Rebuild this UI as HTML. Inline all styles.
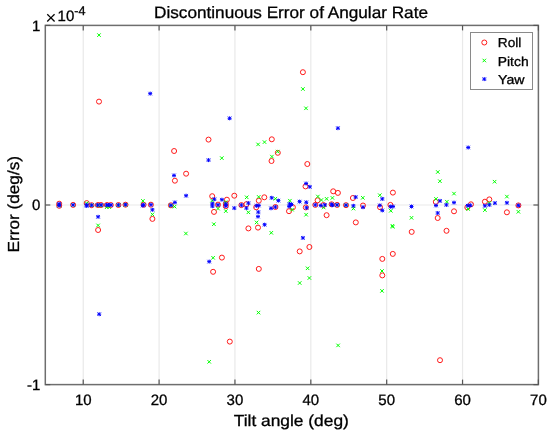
<!DOCTYPE html>
<html><head><meta charset="utf-8"><title>Discontinuous Error of Angular Rate</title><style>
html,body{margin:0;padding:0;background:#fff;}
body{width:550px;height:434px;overflow:hidden;position:relative;}
svg{position:absolute;left:0;top:0;filter:blur(0.3px);}
text{font-family:"Liberation Sans",Arial,sans-serif;fill:#000;text-rendering:geometricPrecision;stroke:#000;stroke-width:0.3px;}
</style></head><body>
<svg width="550" height="434" viewBox="0 0 550 434">
<rect x="0" y="0" width="550" height="434" fill="#fff"/>
<g stroke="#e9e9e9" stroke-width="1.2"><line x1="83.23" y1="25.4" x2="83.23" y2="384.6"/><line x1="159.09" y1="25.4" x2="159.09" y2="384.6"/><line x1="234.95" y1="25.4" x2="234.95" y2="384.6"/><line x1="310.82" y1="25.4" x2="310.82" y2="384.6"/><line x1="386.68" y1="25.4" x2="386.68" y2="384.6"/><line x1="462.54" y1="25.4" x2="462.54" y2="384.6"/><line x1="45.3" y1="205.00" x2="538.4" y2="205.00"/></g>
<g fill="none" stroke="#ff1a1a" stroke-width="1.0"><circle cx="99.00" cy="101.60" r="2.5"/><circle cx="174.10" cy="151.00" r="2.5"/><circle cx="174.90" cy="180.70" r="2.5"/><circle cx="186.10" cy="173.70" r="2.5"/><circle cx="208.50" cy="139.60" r="2.5"/><circle cx="271.80" cy="139.30" r="2.5"/><circle cx="277.80" cy="152.80" r="2.5"/><circle cx="271.50" cy="161.00" r="2.5"/><circle cx="302.90" cy="72.20" r="2.5"/><circle cx="307.30" cy="164.00" r="2.5"/><circle cx="305.50" cy="186.40" r="2.5"/><circle cx="333.20" cy="191.30" r="2.5"/><circle cx="337.90" cy="192.90" r="2.5"/><circle cx="392.90" cy="192.60" r="2.5"/><circle cx="59.20" cy="203.70" r="2.5"/><circle cx="59.20" cy="205.80" r="2.5"/><circle cx="73.10" cy="204.90" r="2.5"/><circle cx="86.70" cy="203.10" r="2.5"/><circle cx="91.60" cy="205.20" r="2.5"/><circle cx="98.00" cy="205.00" r="2.5"/><circle cx="101.00" cy="205.00" r="2.5"/><circle cx="107.00" cy="205.00" r="2.5"/><circle cx="110.80" cy="205.00" r="2.5"/><circle cx="98.10" cy="230.00" r="2.5"/><circle cx="118.40" cy="205.00" r="2.5"/><circle cx="125.50" cy="204.70" r="2.5"/><circle cx="143.60" cy="204.70" r="2.5"/><circle cx="150.90" cy="204.70" r="2.5"/><circle cx="152.40" cy="218.90" r="2.5"/><circle cx="170.90" cy="205.30" r="2.5"/><circle cx="212.20" cy="196.20" r="2.5"/><circle cx="218.00" cy="204.60" r="2.5"/><circle cx="214.00" cy="211.90" r="2.5"/><circle cx="226.90" cy="199.70" r="2.5"/><circle cx="225.80" cy="203.80" r="2.5"/><circle cx="225.80" cy="206.20" r="2.5"/><circle cx="234.30" cy="195.70" r="2.5"/><circle cx="241.40" cy="205.10" r="2.5"/><circle cx="246.40" cy="204.20" r="2.5"/><circle cx="258.80" cy="200.70" r="2.5"/><circle cx="264.30" cy="197.30" r="2.5"/><circle cx="256.20" cy="207.30" r="2.5"/><circle cx="258.00" cy="227.60" r="2.5"/><circle cx="275.40" cy="207.00" r="2.5"/><circle cx="289.00" cy="211.20" r="2.5"/><circle cx="292.90" cy="207.30" r="2.5"/><circle cx="305.80" cy="207.40" r="2.5"/><circle cx="317.60" cy="200.30" r="2.5"/><circle cx="315.30" cy="204.90" r="2.5"/><circle cx="323.40" cy="205.00" r="2.5"/><circle cx="326.60" cy="215.20" r="2.5"/><circle cx="331.60" cy="204.30" r="2.5"/><circle cx="337.10" cy="204.90" r="2.5"/><circle cx="346.00" cy="205.20" r="2.5"/><circle cx="352.90" cy="198.00" r="2.5"/><circle cx="363.00" cy="205.50" r="2.5"/><circle cx="355.80" cy="222.40" r="2.5"/><circle cx="380.00" cy="207.20" r="2.5"/><circle cx="390.40" cy="204.90" r="2.5"/><circle cx="435.80" cy="201.90" r="2.5"/><circle cx="437.70" cy="218.00" r="2.5"/><circle cx="454.00" cy="211.30" r="2.5"/><circle cx="471.00" cy="204.30" r="2.5"/><circle cx="467.30" cy="207.40" r="2.5"/><circle cx="484.90" cy="201.70" r="2.5"/><circle cx="489.30" cy="199.40" r="2.5"/><circle cx="506.90" cy="212.30" r="2.5"/><circle cx="518.40" cy="205.40" r="2.5"/><circle cx="221.90" cy="257.60" r="2.5"/><circle cx="213.10" cy="271.80" r="2.5"/><circle cx="248.40" cy="228.40" r="2.5"/><circle cx="309.40" cy="247.00" r="2.5"/><circle cx="299.70" cy="251.40" r="2.5"/><circle cx="411.70" cy="231.90" r="2.5"/><circle cx="446.50" cy="230.80" r="2.5"/><circle cx="392.80" cy="253.90" r="2.5"/><circle cx="382.30" cy="258.90" r="2.5"/><circle cx="382.30" cy="275.40" r="2.5"/><circle cx="229.80" cy="341.60" r="2.5"/><circle cx="440.00" cy="360.20" r="2.5"/><circle cx="258.80" cy="268.90" r="2.5"/></g>
<g fill="none" stroke="#00ff00" stroke-width="1.0"><path d="M97.25 33.35L100.75 36.85M97.25 36.85L100.75 33.35"/><path d="M220.05 156.35L223.55 159.85M220.05 159.85L223.55 156.35"/><path d="M256.35 142.65L259.85 146.15M256.35 146.15L259.85 142.65"/><path d="M262.75 140.35L266.25 143.85M262.75 143.85L266.25 140.35"/><path d="M275.95 149.85L279.45 153.35M275.95 153.35L279.45 149.85"/><path d="M270.15 154.85L273.65 158.35M270.15 158.35L273.65 154.85"/><path d="M301.15 87.25L304.65 90.75M301.15 90.75L304.65 87.25"/><path d="M304.25 106.55L307.75 110.05M304.25 110.05L307.75 106.55"/><path d="M492.85 179.95L496.35 183.45M492.85 183.45L496.35 179.95"/><path d="M436.05 170.25L439.55 173.75M436.05 173.75L439.55 170.25"/><path d="M438.15 179.45L441.65 182.95M438.15 182.95L441.65 179.45"/><path d="M57.45 203.75L60.95 207.25M57.45 207.25L60.95 203.75"/><path d="M71.35 203.25L74.85 206.75M71.35 206.75L74.85 203.25"/><path d="M84.95 201.55L88.45 205.05M84.95 205.05L88.45 201.55"/><path d="M89.85 203.45L93.35 206.95M89.85 206.95L93.35 203.45"/><path d="M96.25 203.75L99.75 207.25M96.25 207.25L99.75 203.75"/><path d="M99.25 203.75L102.75 207.25M99.25 207.25L102.75 203.75"/><path d="M104.95 205.45L108.45 208.95M104.95 208.95L108.45 205.45"/><path d="M107.55 205.45L111.05 208.95M107.55 208.95L111.05 205.45"/><path d="M96.35 223.65L99.85 227.15M96.35 227.15L99.85 223.65"/><path d="M141.15 199.15L144.65 202.65M141.15 202.65L144.65 199.15"/><path d="M150.65 212.65L154.15 216.15M150.65 216.15L154.15 212.65"/><path d="M169.25 203.85L172.75 207.35M169.25 207.35L172.75 203.85"/><path d="M172.85 204.85L176.35 208.35M172.85 208.35L176.35 204.85"/><path d="M210.45 198.85L213.95 202.35M210.45 202.35L213.95 198.85"/><path d="M216.25 206.85L219.75 210.35M216.25 210.35L219.75 206.85"/><path d="M223.75 200.45L227.25 203.95M223.75 203.95L227.25 200.45"/><path d="M224.05 209.35L227.55 212.85M224.05 212.85L227.55 209.35"/><path d="M212.15 222.45L215.65 225.95M212.15 225.95L215.65 222.45"/><path d="M244.95 195.55L248.45 199.05M244.95 199.05L248.45 195.55"/><path d="M246.65 210.55L250.15 214.05M246.65 214.05L250.15 210.55"/><path d="M256.95 195.15L260.45 198.65M256.95 198.65L260.45 195.15"/><path d="M254.85 220.65L258.35 224.15M254.85 224.15L258.35 220.65"/><path d="M273.65 196.95L277.15 200.45M273.65 200.45L277.15 196.95"/><path d="M288.15 198.95L291.65 202.45M288.15 202.45L291.65 198.95"/><path d="M290.25 207.95L293.75 211.45M290.25 211.45L293.75 207.95"/><path d="M304.35 212.95L307.85 216.45M304.35 216.45L307.85 212.95"/><path d="M316.15 194.75L319.65 198.25M316.15 198.25L319.65 194.75"/><path d="M319.65 198.25L323.15 201.75M319.65 201.75L323.15 198.25"/><path d="M324.85 197.05L328.35 200.55M324.85 200.55L328.35 197.05"/><path d="M330.65 196.15L334.15 199.65M330.65 199.65L334.15 196.15"/><path d="M321.95 205.75L325.45 209.25M321.95 209.25L325.45 205.75"/><path d="M335.35 203.15L338.85 206.65M335.35 206.65L338.85 203.15"/><path d="M344.25 203.55L347.75 207.05M344.25 207.05L347.75 203.55"/><path d="M361.05 196.05L364.55 199.55M361.05 199.55L364.55 196.05"/><path d="M351.65 206.85L355.15 210.35M351.65 210.35L355.15 206.85"/><path d="M378.05 193.45L381.55 196.95M378.05 196.95L381.55 193.45"/><path d="M389.05 209.05L392.55 212.55M389.05 212.55L392.55 209.05"/><path d="M390.65 224.05L394.15 227.55M390.65 227.55L394.15 224.05"/><path d="M409.75 216.05L413.25 219.55M409.75 219.55L413.25 216.05"/><path d="M434.25 197.15L437.75 200.65M434.25 200.65L437.75 197.15"/><path d="M445.15 199.95L448.65 203.45M445.15 203.45L448.65 199.95"/><path d="M452.25 191.85L455.75 195.35M452.25 195.35L455.75 191.85"/><path d="M466.35 207.25L469.85 210.75M466.35 210.75L469.85 207.25"/><path d="M487.55 201.25L491.05 204.75M487.55 204.75L491.05 201.25"/><path d="M483.15 208.35L486.65 211.85M483.15 211.85L486.65 208.35"/><path d="M505.15 194.85L508.65 198.35M505.15 198.35L508.65 194.85"/><path d="M516.65 210.05L520.15 213.55M516.65 213.55L520.15 210.05"/><path d="M184.15 231.75L187.65 235.25M184.15 235.25L187.65 231.75"/><path d="M211.35 256.05L214.85 259.55M211.35 259.55L214.85 256.05"/><path d="M269.55 231.05L273.05 234.55M269.55 234.55L273.05 231.05"/><path d="M305.85 266.55L309.35 270.05M305.85 270.05L309.35 266.55"/><path d="M307.65 276.25L311.15 279.75M307.65 279.75L311.15 276.25"/><path d="M297.95 281.25L301.45 284.75M297.95 284.75L301.45 281.25"/><path d="M390.95 225.05L394.45 228.55M390.95 228.55L394.45 225.05"/><path d="M380.25 269.25L383.75 272.75M380.25 272.75L383.75 269.25"/><path d="M380.25 289.15L383.75 292.65M380.25 292.65L383.75 289.15"/><path d="M256.75 310.85L260.25 314.35M256.75 314.35L260.25 310.85"/><path d="M207.45 360.05L210.95 363.55M207.45 363.55L210.95 360.05"/><path d="M336.35 343.65L339.85 347.15M336.35 347.15L339.85 343.65"/><path d="M123.75 203.15L127.25 206.65M123.75 206.65L127.25 203.15"/><path d="M116.65 203.45L120.15 206.95M116.65 206.95L120.15 203.45"/></g>
<g fill="none" stroke="#0000ff" stroke-width="0.95"><path d="M148.20 93.60H152.20M150.20 91.60V95.60M148.45 91.85L151.95 95.35M148.45 95.35L151.95 91.85"/><path d="M172.00 175.40H176.00M174.00 173.40V177.40M172.25 173.65L175.75 177.15M172.25 177.15L175.75 173.65"/><path d="M206.50 160.10H210.50M208.50 158.10V162.10M206.75 158.35L210.25 161.85M206.75 161.85L210.25 158.35"/><path d="M227.60 118.30H231.60M229.60 116.30V120.30M227.85 116.55L231.35 120.05M227.85 120.05L231.35 116.55"/><path d="M335.90 128.20H339.90M337.90 126.20V130.20M336.15 126.45L339.65 129.95M336.15 129.95L339.65 126.45"/><path d="M466.20 147.50H470.20M468.20 145.50V149.50M466.45 145.75L469.95 149.25M466.45 149.25L469.95 145.75"/><path d="M304.10 183.50H308.10M306.10 181.50V185.50M304.35 181.75L307.85 185.25M304.35 185.25L307.85 181.75"/><path d="M307.80 186.80H311.80M309.80 184.80V188.80M308.05 185.05L311.55 188.55M308.05 188.55L311.55 185.05"/><path d="M57.20 203.90H61.20M59.20 201.90V205.90M57.45 202.15L60.95 205.65M57.45 205.65L60.95 202.15"/><path d="M57.20 205.60H61.20M59.20 203.60V207.60M57.45 203.85L60.95 207.35M57.45 207.35L60.95 203.85"/><path d="M71.10 204.90H75.10M73.10 202.90V206.90M71.35 203.15L74.85 206.65M71.35 206.65L74.85 203.15"/><path d="M84.70 204.90H88.70M86.70 202.90V206.90M84.95 203.15L88.45 206.65M84.95 206.65L88.45 203.15"/><path d="M84.70 206.00H88.70M86.70 204.00V208.00M84.95 204.25L88.45 207.75M84.95 207.75L88.45 204.25"/><path d="M89.60 205.20H93.60M91.60 203.20V207.20M89.85 203.45L93.35 206.95M89.85 206.95L93.35 203.45"/><path d="M95.60 205.00H99.60M97.60 203.00V207.00M95.85 203.25L99.35 206.75M95.85 206.75L99.35 203.25"/><path d="M99.20 205.00H103.20M101.20 203.00V207.00M99.45 203.25L102.95 206.75M99.45 206.75L102.95 203.25"/><path d="M104.70 205.00H108.70M106.70 203.00V207.00M104.95 203.25L108.45 206.75M104.95 206.75L108.45 203.25"/><path d="M106.40 205.00H110.40M108.40 203.00V207.00M106.65 203.25L110.15 206.75M106.65 206.75L110.15 203.25"/><path d="M109.00 205.00H113.00M111.00 203.00V207.00M109.25 203.25L112.75 206.75M109.25 206.75L112.75 203.25"/><path d="M96.10 216.80H100.10M98.10 214.80V218.80M96.35 215.05L99.85 218.55M96.35 218.55L99.85 215.05"/><path d="M116.40 205.00H120.40M118.40 203.00V207.00M116.65 203.25L120.15 206.75M116.65 206.75L120.15 203.25"/><path d="M123.50 204.70H127.50M125.50 202.70V206.70M123.75 202.95L127.25 206.45M123.75 206.45L127.25 202.95"/><path d="M141.60 204.90H145.60M143.60 202.90V206.90M141.85 203.15L145.35 206.65M141.85 206.65L145.35 203.15"/><path d="M140.80 205.60H144.80M142.80 203.60V207.60M141.05 203.85L144.55 207.35M141.05 207.35L144.55 203.85"/><path d="M148.90 204.70H152.90M150.90 202.70V206.70M149.15 202.95L152.65 206.45M149.15 206.45L152.65 202.95"/><path d="M150.40 209.80H154.40M152.40 207.80V211.80M150.65 208.05L154.15 211.55M150.65 211.55L154.15 208.05"/><path d="M184.10 195.70H188.10M186.10 193.70V197.70M184.35 193.95L187.85 197.45M184.35 197.45L187.85 193.95"/><path d="M168.90 205.30H172.90M170.90 203.30V207.30M169.15 203.55L172.65 207.05M169.15 207.05L172.65 203.55"/><path d="M172.90 202.40H176.90M174.90 200.40V204.40M173.15 200.65L176.65 204.15M173.15 204.15L176.65 200.65"/><path d="M212.40 199.20H216.40M214.40 197.20V201.20M212.65 197.45L216.15 200.95M212.65 200.95L216.15 197.45"/><path d="M210.40 203.70H214.40M212.40 201.70V205.70M210.65 201.95L214.15 205.45M210.65 205.45L214.15 201.95"/><path d="M210.40 206.20H214.40M212.40 204.20V208.20M210.65 204.45L214.15 207.95M210.65 207.95L214.15 204.45"/><path d="M216.00 204.80H220.00M218.00 202.80V206.80M216.25 203.05L219.75 206.55M216.25 206.55L219.75 203.05"/><path d="M219.90 199.70H223.90M221.90 197.70V201.70M220.15 197.95L223.65 201.45M220.15 201.45L223.65 197.95"/><path d="M223.80 204.00H227.80M225.80 202.00V206.00M224.05 202.25L227.55 205.75M224.05 205.75L227.55 202.25"/><path d="M223.80 206.00H227.80M225.80 204.00V208.00M224.05 204.25L227.55 207.75M224.05 207.75L227.55 204.25"/><path d="M232.30 208.10H236.30M234.30 206.10V210.10M232.55 206.35L236.05 209.85M232.55 209.85L236.05 206.35"/><path d="M239.40 205.10H243.40M241.40 203.10V207.10M239.65 203.35L243.15 206.85M239.65 206.85L243.15 203.35"/><path d="M246.40 203.10H250.40M248.40 201.10V205.10M246.65 201.35L250.15 204.85M246.65 204.85L250.15 201.35"/><path d="M244.40 208.10H248.40M246.40 206.10V210.10M244.65 206.35L248.15 209.85M244.65 209.85L248.15 206.35"/><path d="M254.40 205.80H258.40M256.40 203.80V207.80M254.65 204.05L258.15 207.55M254.65 207.55L258.15 204.05"/><path d="M256.80 205.50H260.80M258.80 203.50V207.50M257.05 203.75L260.55 207.25M257.05 207.25L260.55 203.75"/><path d="M256.30 212.10H260.30M258.30 210.10V214.10M256.55 210.35L260.05 213.85M256.55 213.85L260.05 210.35"/><path d="M256.00 216.60H260.00M258.00 214.60V218.60M256.25 214.85L259.75 218.35M256.25 218.35L259.75 214.85"/><path d="M262.60 224.70H266.60M264.60 222.70V226.70M262.85 222.95L266.35 226.45M262.85 226.45L266.35 222.95"/><path d="M269.70 197.80H273.70M271.70 195.80V199.80M269.95 196.05L273.45 199.55M269.95 199.55L273.45 196.05"/><path d="M276.40 200.60H280.40M278.40 198.60V202.60M276.65 198.85L280.15 202.35M276.65 202.35L280.15 198.85"/><path d="M273.40 207.00H277.40M275.40 205.00V209.00M273.65 205.25L277.15 208.75M273.65 208.75L277.15 205.25"/><path d="M269.00 208.30H273.00M271.00 206.30V210.30M269.25 206.55L272.75 210.05M269.25 210.05L272.75 206.55"/><path d="M287.50 204.00H291.50M289.50 202.00V206.00M287.75 202.25L291.25 205.75M287.75 205.75L291.25 202.25"/><path d="M289.50 204.50H293.50M291.50 202.50V206.50M289.75 202.75L293.25 206.25M289.75 206.25L293.25 202.75"/><path d="M287.20 206.50H291.20M289.20 204.50V208.50M287.45 204.75L290.95 208.25M287.45 208.25L290.95 204.75"/><path d="M297.60 201.60H301.60M299.60 199.60V203.60M297.85 199.85L301.35 203.35M297.85 203.35L301.35 199.85"/><path d="M304.30 202.30H308.30M306.30 200.30V204.30M304.55 200.55L308.05 204.05M304.55 204.05L308.05 200.55"/><path d="M304.60 207.80H308.60M306.60 205.80V209.80M304.85 206.05L308.35 209.55M304.85 209.55L308.35 206.05"/><path d="M313.30 204.90H317.30M315.30 202.90V206.90M313.55 203.15L317.05 206.65M313.55 206.65L317.05 203.15"/><path d="M318.80 205.50H322.80M320.80 203.50V207.50M319.05 203.75L322.55 207.25M319.05 207.25L322.55 203.75"/><path d="M322.90 204.90H326.90M324.90 202.90V206.90M323.15 203.15L326.65 206.65M323.15 206.65L326.65 203.15"/><path d="M329.60 204.30H333.60M331.60 202.30V206.30M329.85 202.55L333.35 206.05M329.85 206.05L333.35 202.55"/><path d="M330.50 205.20H334.50M332.50 203.20V207.20M330.75 203.45L334.25 206.95M330.75 206.95L334.25 203.45"/><path d="M335.10 204.90H339.10M337.10 202.90V206.90M335.35 203.15L338.85 206.65M335.35 206.65L338.85 203.15"/><path d="M344.00 205.20H348.00M346.00 203.20V207.20M344.25 203.45L347.75 206.95M344.25 206.95L347.75 203.45"/><path d="M353.70 197.10H357.70M355.70 195.10V199.10M353.95 195.35L357.45 198.85M353.95 198.85L357.45 195.35"/><path d="M351.40 205.80H355.40M353.40 203.80V207.80M351.65 204.05L355.15 207.55M351.65 207.55L355.15 204.05"/><path d="M361.00 207.20H365.00M363.00 205.20V209.20M361.25 205.45L364.75 208.95M361.25 208.95L364.75 205.45"/><path d="M380.30 198.90H384.30M382.30 196.90V200.90M380.55 197.15L384.05 200.65M380.55 200.65L384.05 197.15"/><path d="M377.80 205.40H381.80M379.80 203.40V207.40M378.05 203.65L381.55 207.15M378.05 207.15L381.55 203.65"/><path d="M380.30 210.40H384.30M382.30 208.40V212.40M380.55 208.65L384.05 212.15M380.55 212.15L384.05 208.65"/><path d="M388.60 206.70H392.60M390.60 204.70V208.70M388.85 204.95L392.35 208.45M388.85 208.45L392.35 204.95"/><path d="M391.00 206.50H395.00M393.00 204.50V208.50M391.25 204.75L394.75 208.25M391.25 208.25L394.75 204.75"/><path d="M409.50 206.50H413.50M411.50 204.50V208.50M409.75 204.75L413.25 208.25M409.75 208.25L413.25 204.75"/><path d="M438.00 200.90H442.00M440.00 198.90V202.90M438.25 199.15L441.75 202.65M438.25 202.65L441.75 199.15"/><path d="M434.00 205.50H438.00M436.00 203.50V207.50M434.25 203.75L437.75 207.25M434.25 207.25L437.75 203.75"/><path d="M435.70 213.00H439.70M437.70 211.00V215.00M435.95 211.25L439.45 214.75M435.95 214.75L439.45 211.25"/><path d="M444.40 204.90H448.40M446.40 202.90V206.90M444.65 203.15L448.15 206.65M444.65 206.65L448.15 203.15"/><path d="M452.00 202.60H456.00M454.00 200.60V204.60M452.25 200.85L455.75 204.35M452.25 204.35L455.75 200.85"/><path d="M465.70 205.70H469.70M467.70 203.70V207.70M465.95 203.95L469.45 207.45M465.95 207.45L469.45 203.95"/><path d="M468.40 205.30H472.40M470.40 203.30V207.30M468.65 203.55L472.15 207.05M468.65 207.05L472.15 203.55"/><path d="M482.90 205.80H486.90M484.90 203.80V207.80M483.15 204.05L486.65 207.55M483.15 207.55L486.65 204.05"/><path d="M487.30 204.90H491.30M489.30 202.90V206.90M487.55 203.15L491.05 206.65M487.55 206.65L491.05 203.15"/><path d="M492.90 203.10H496.90M494.90 201.10V205.10M493.15 201.35L496.65 204.85M493.15 204.85L496.65 201.35"/><path d="M504.90 202.80H508.90M506.90 200.80V204.80M505.15 201.05L508.65 204.55M505.15 204.55L508.65 201.05"/><path d="M516.40 205.40H520.40M518.40 203.40V207.40M516.65 203.65L520.15 207.15M516.65 207.15L520.15 203.65"/><path d="M97.20 314.20H101.20M99.20 312.20V316.20M97.45 312.45L100.95 315.95M97.45 315.95L100.95 312.45"/><path d="M207.20 261.60H211.20M209.20 259.60V263.60M207.45 259.85L210.95 263.35M207.45 263.35L210.95 259.85"/><path d="M300.90 237.90H304.90M302.90 235.90V239.90M301.15 236.15L304.65 239.65M301.15 239.65L304.65 236.15"/></g>
<rect x="45.3" y="25.4" width="493.10" height="359.20" fill="none" stroke="#6e6e6e" stroke-width="1.5"/>
<g stroke="#555" stroke-width="1.2"><line x1="83.23" y1="384.6" x2="83.23" y2="379.6"/><line x1="83.23" y1="25.4" x2="83.23" y2="30.4"/><line x1="159.09" y1="384.6" x2="159.09" y2="379.6"/><line x1="159.09" y1="25.4" x2="159.09" y2="30.4"/><line x1="234.95" y1="384.6" x2="234.95" y2="379.6"/><line x1="234.95" y1="25.4" x2="234.95" y2="30.4"/><line x1="310.82" y1="384.6" x2="310.82" y2="379.6"/><line x1="310.82" y1="25.4" x2="310.82" y2="30.4"/><line x1="386.68" y1="384.6" x2="386.68" y2="379.6"/><line x1="386.68" y1="25.4" x2="386.68" y2="30.4"/><line x1="462.54" y1="384.6" x2="462.54" y2="379.6"/><line x1="462.54" y1="25.4" x2="462.54" y2="30.4"/><line x1="538.40" y1="384.6" x2="538.40" y2="379.6"/><line x1="538.40" y1="25.4" x2="538.40" y2="30.4"/><line x1="45.3" y1="384.60" x2="50.3" y2="384.60"/><line x1="538.4" y1="384.60" x2="533.4" y2="384.60"/><line x1="45.3" y1="205.00" x2="50.3" y2="205.00"/><line x1="538.4" y1="205.00" x2="533.4" y2="205.00"/><line x1="45.3" y1="25.40" x2="50.3" y2="25.40"/><line x1="538.4" y1="25.40" x2="533.4" y2="25.40"/></g>
<text x="83.23" y="404.8" text-anchor="middle" font-size="15">10</text><text x="159.09" y="404.8" text-anchor="middle" font-size="15">20</text><text x="234.95" y="404.8" text-anchor="middle" font-size="15">30</text><text x="310.82" y="404.8" text-anchor="middle" font-size="15">40</text><text x="386.68" y="404.8" text-anchor="middle" font-size="15">50</text><text x="462.54" y="404.8" text-anchor="middle" font-size="15">60</text><text x="538.40" y="404.8" text-anchor="middle" font-size="15">70</text><text x="40.4" y="30.80" text-anchor="end" font-size="15">1</text><text x="40.4" y="210.40" text-anchor="end" font-size="15">0</text><text x="40.4" y="390.00" text-anchor="end" font-size="15">-1</text>
<text x="45.5" y="23.6" font-size="18.5" style="stroke-width:0">×</text><text x="57.6" y="21.3" font-size="15">10</text><text x="74.3" y="14.8" font-size="12.6">-4</text>
<text x="154" y="17.6" font-size="16.5" textLength="274" lengthAdjust="spacingAndGlyphs">Discontinuous Error of Angular Rate</text>
<text x="233.8" y="426.1" font-size="16" textLength="115" lengthAdjust="spacingAndGlyphs">Tilt angle (deg)</text>
<text transform="translate(19.3 252.5) rotate(-90)" font-size="16" textLength="96.5" lengthAdjust="spacingAndGlyphs">Error (deg/s)</text>
<rect x="470.5" y="32.5" width="62" height="57" fill="#fff" stroke="#8a8a8a" stroke-width="1"/>
<g fill="none" stroke="#ff1a1a" stroke-width="1.0"><circle cx="484.30" cy="42.50" r="2.5"/></g><g fill="none" stroke="#00ff00" stroke-width="1.0"><path d="M482.55 58.75L486.05 62.25M482.55 62.25L486.05 58.75"/></g><g fill="none" stroke="#0000ff" stroke-width="0.95"><path d="M482.30 79.10H486.30M484.30 77.10V81.10M482.55 77.35L486.05 80.85M482.55 80.85L486.05 77.35"/></g>
<text x="497.8" y="47.3" font-size="13" textLength="23.5" lengthAdjust="spacingAndGlyphs">Roll</text>
<text x="497.8" y="65.7" font-size="13" textLength="30.8" lengthAdjust="spacingAndGlyphs">Pitch</text>
<text x="498" y="83.9" font-size="13" textLength="26.5" lengthAdjust="spacingAndGlyphs">Yaw</text>
</svg></body></html>
